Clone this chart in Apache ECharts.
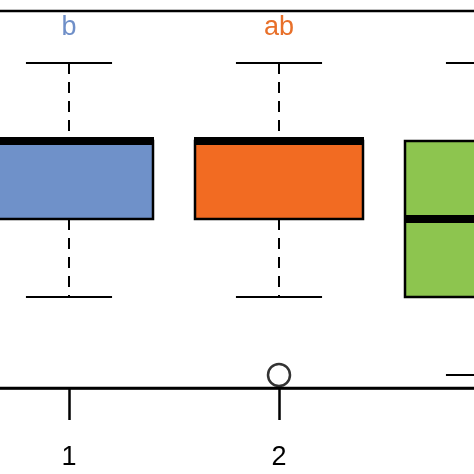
<!DOCTYPE html>
<html>
<head>
<meta charset="utf-8">
<script src="https://cdn.jsdelivr.net/npm/echarts@6/dist/echarts.min.js"></script>
<style>html,body{margin:0;padding:0;background:#fff;}#c{width:474px;height:474px;}</style>
</head>
<body>
<div id="c"></div>
<script>
// categories and box statistics [low whisker, Q1, median, Q3, high whisker]
var categories = ['1', '2', '3'];
var boxStats = [
  [1, 2, 3, 3, 4],
  [1, 2, 3, 3, 4],
  [0, 1, 2, 3, 4]
];
var outliers = [[1, 0]]; // [category index, value]
var letters = ['b', 'ab', 'a'];
var letterY = 4.45;
var fills = ['#6F91C9', '#F26B22', '#8DC54F'];
var letterColors = ['#6F8FC8', '#E8702A', '#7DB443'];

var chart = echarts.init(document.getElementById('c'), null, {renderer: 'canvas'});

function boxItem(params, api) {
  var idx = api.value(0);
  var lo = api.coord([idx, api.value(1)]);
  var q1 = api.coord([idx, api.value(2)]);
  var md = api.coord([idx, api.value(3)]);
  var q3 = api.coord([idx, api.value(4)]);
  var hi = api.coord([idx, api.value(5)]);
  var band = api.size([1, 0])[0];
  var bw = band * 0.8;
  var cw = band * 0.41;
  var x = lo[0];
  var ls = {stroke: '#000', lineWidth: 2};
  var dash = {stroke: '#000', lineWidth: 2, lineDash: [11, 8]};
  return {
    type: 'group',
    children: [
      {type: 'line', shape: {x1: x, y1: hi[1], x2: x, y2: q3[1]}, style: dash},
      {type: 'line', shape: {x1: x, y1: q1[1], x2: x, y2: lo[1]}, style: dash},
      {type: 'line', shape: {x1: x - cw / 2, y1: hi[1], x2: x + cw / 2, y2: hi[1]}, style: ls},
      {type: 'line', shape: {x1: x - cw / 2, y1: lo[1], x2: x + cw / 2, y2: lo[1]}, style: ls},
      {type: 'rect', shape: {x: x - bw / 2, y: q3[1], width: bw, height: q1[1] - q3[1]},
        style: {fill: fills[idx], stroke: '#000', lineWidth: 2.5}},
      {type: 'line', shape: {x1: x - bw / 2 - 1, y1: md[1], x2: x + bw / 2 + 1, y2: md[1]},
        style: {stroke: '#000', lineWidth: 8}}
    ]
  };
}

chart.setOption({
  animation: false,
  backgroundColor: '#fff',
  grid: {left: -36, right: -120, top: 11, bottom: 86, outerBoundsMode: 'none', containLabel: false,
    show: true, borderColor: '#000', borderWidth: 2.5, backgroundColor: 'transparent'},
  xAxis: {
    type: 'category',
    data: categories,
    axisLine: {show: true, onZero: false, lineStyle: {color: '#000', width: 2.5}},
    axisTick: {show: true, alignWithLabel: true, length: 32, lineStyle: {color: '#000', width: 2.5}},
    axisLabel: {show: true, color: '#000', fontSize: 27, fontFamily: 'Liberation Sans, Arial, sans-serif', margin: 56},
    splitLine: {show: false}
  },
  yAxis: {
    type: 'value',
    min: -0.1667,
    max: 4.667,
    show: false,
    splitLine: {show: false}
  },
  series: [
    {
      type: 'custom',
      renderItem: boxItem,
      encode: {x: 0, y: [1, 2, 3, 4, 5]},
      data: boxStats.map(function (s, i) { return [i].concat(s); }),
      z: 2
    },
    {
      type: 'scatter',
      data: outliers,
      symbol: 'circle',
      symbolSize: 22,
      itemStyle: {color: '#fff', borderColor: '#000', borderWidth: 2.5},
      z: 3
    },
    {
      type: 'custom',
      renderItem: function (params, api) {
        var p = api.coord([api.value(0), api.value(1)]);
        return {
          type: 'text',
          x: p[0], y: p[1],
          style: {text: letters[api.value(0)], fill: letterColors[api.value(0)], fontSize: 27,
            fontFamily: 'Liberation Sans, Arial, sans-serif', align: 'center', verticalAlign: 'middle'}
        };
      },
      data: letters.map(function (l, i) { return [i, letterY]; }),
      z: 4
    }
  ]
});
</script>
</body>
</html>
